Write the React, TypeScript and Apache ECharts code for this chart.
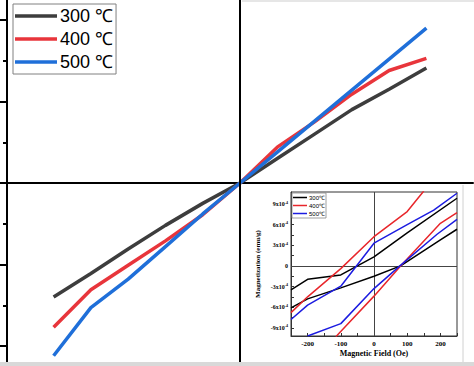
import React, { useEffect, useRef } from "react";
import * as echarts from "echarts";

// ---- main plot (field in arbitrary units, magnetization in arbitrary units) ----
const mainField = [-10, -8, -6, -4, -2, 0, 2, 4, 6, 8, 10];
const main300 = [-1.4, -1.11, -0.81, -0.52, -0.25, 0, 0.3, 0.6, 0.9, 1.15, 1.41];
const main400 = [-1.77, -1.31, -1.01, -0.71, -0.39, 0, 0.44, 0.75, 1.09, 1.38, 1.53];
const main500 = [-2.12, -1.53, -1.18, -0.78, -0.38, 0, 0.38, 0.76, 1.14, 1.52, 1.9];
const mainNames = ["300 ℃", "400 ℃", "500 ℃"];
const mainMajorTicks = [-2, -1, 0, 1, 2];
const mainMinorTicks = [-1.5, -0.5, 0.5, 1.5];

// ---- inset (field in Oe, magnetization in 1e-4 emu/g) ----
const up300Field = [-250, -200, -100, 0, 100, 250];
const up300Val = [-3.5, -1.95, -1.32, 1.3, 4.8, 9.84];
const down300Field = [-250, -200, -100, 0, 80, 200, 250];
const down300Val = [-6.1, -4.8, -3.2, -1.5, 0, 3.8, 5.33];
const up400Field = [-250, -200, -100, 0, 100, 150];
const up400Val = [-6.8, -4.5, -0.4, 4.25, 7.9, 10.9];
const down400Field = [-115, 0, 80, 200, 250];
const down400Val = [-10.3, -4.4, 0, 6.2, 7.74];
const up500Field = [-250, -200, -100, 0, 100, 180, 250];
const up500Val = [-7.8, -5.7, -2.95, 3.3, 6.0, 8.1, 10.57];
const down500Field = [-200, -100, 0, 78, 190, 250];
const down500Val = [-10.2, -8.4, -3.3, 0, 4.6, 6.78];
const insetNames = ["300℃", "400℃", "500℃"];
const insetXLabels = [-200, -100, 0, 100, 200];
const insetXTicks = [-250, -200, -150, -100, -50, 0, 50, 100, 150, 200, 250];
const insetYLabels = [-9, -6, -3, 0, 3, 6, 9];
const insetYTicks = [-9, -7.5, -6, -4.5, -3, -1.5, 0, 1.5, 3, 4.5, 6, 7.5, 9];

const mainColors = ["#3d3d3d", "#e8353b", "#1f6fd9"];
const insetColors = ["#000000", "#e8262b", "#1c1ce0"];

const pairs = (xs: number[], ys: number[]) => xs.map((x, i) => [x, ys[i]]);

export default function App() {
  const ref = useRef<HTMLDivElement>(null);
  useEffect(() => {
    if (!ref.current) return;
    const chart = echarts.init(ref.current, undefined, { renderer: "svg" });
    const serif = "'Liberation Serif', 'Times New Roman', serif";
    const mainSeries = [main300, main400, main500].map((vals, i) => ({
      name: mainNames[i],
      type: "line",
      xAxisIndex: 0,
      yAxisIndex: 0,
      data: pairs(mainField, vals),
      symbol: "none",
      lineStyle: { color: mainColors[i], width: 3.5 },
      itemStyle: { color: mainColors[i] },
      z: 3,
      ...(i === 0
        ? {
            markLine: {
              silent: true,
              symbol: ["none", "none"],
              label: { show: false },
              lineStyle: { color: "#000", width: 2, type: "solid" },
              data: [{ xAxis: 0 }],
            },
          }
        : {}),
    }));
    const insetBranches = [
      [up300Field, up300Val, 0],
      [down300Field, down300Val, 0],
      [up400Field, up400Val, 1],
      [down400Field, down400Val, 1],
      [up500Field, up500Val, 2],
      [down500Field, down500Val, 2],
    ] as [number[], number[], number][];
    const insetSeries = insetBranches.map(([xs, ys, k], j) => ({
      name: insetNames[k],
      type: "line",
      xAxisIndex: 1,
      yAxisIndex: 1,
      data: pairs(xs, ys),
      symbol: "none",
      clip: true,
      lineStyle: { color: insetColors[k], width: 1.5 },
      itemStyle: { color: insetColors[k] },
      z: 5,
      ...(j === 0
        ? {
            markLine: {
              silent: true,
              symbol: ["none", "none"],
              label: { show: false },
              lineStyle: { color: "#444", width: 1, type: "solid" },
              data: [{ xAxis: 0 }, { yAxis: 0 }],
            },
          }
        : {}),
    }));

    const mainYRange = 183 / 81.5;

    chart.setOption({
      animation: false,
      backgroundColor: "#ffffff",
      grid: [
        { left: 7, right: 1, top: 0, bottom: 0 },
        {
          left: 291,
          top: 192,
          width: 166,
          height: 144,
          show: true,
          backgroundColor: "#ffffff",
          borderColor: "#333",
          borderWidth: 1,
        },
      ],
      legend: [
        {
          data: mainNames,
          orient: "vertical",
          left: 13,
          top: 4,
          padding: [3, 3, 3, 2],
          icon: "rect",
          itemWidth: 42,
          itemHeight: 3.5,
          itemGap: 5,
          borderColor: "#808080",
          borderWidth: 1,
          backgroundColor: "#fff",
          textStyle: {
            fontFamily: "'Liberation Sans', Arial, sans-serif",
            fontSize: 18,
            lineHeight: 18,
            color: "#000",
            padding: [0, 0, 0, -2],
          },
        },
        {
          data: insetNames,
          orient: "vertical",
          left: 292,
          top: 193,
          padding: [1, 1, 1, 1],
          icon: "rect",
          itemWidth: 14,
          itemHeight: 1.5,
          itemGap: 1,
          borderColor: "#888",
          borderWidth: 0.8,
          backgroundColor: "#fff",
          textStyle: {
            fontFamily: "'Liberation Sans', Arial, sans-serif",
            fontSize: 6,
            lineHeight: 7,
            color: "#000",
            padding: [0, 0, 0, -3],
          },
        },
      ],
      xAxis: [
        {
          gridIndex: 0,
          type: "value",
          min: -12.5,
          max: 12.5,
          axisLine: { show: true, onZero: true, lineStyle: { color: "#000", width: 2 } },
          axisTick: { show: false },
          axisLabel: { show: false },
          splitLine: { show: false },
        },
        {
          gridIndex: 1,
          type: "value",
          min: -250,
          max: 250,
          axisLine: { show: true, onZero: false, lineStyle: { color: "#333", width: 1 } },
          axisTick: { show: true, inside: true, length: 3, customValues: insetXTicks, lineStyle: { color: "#333" } },
          axisLabel: {
            show: true,
            customValues: insetXLabels,
            fontFamily: serif,
            fontWeight: "bold",
            fontSize: 7,
            color: "#000",
            margin: 4,
          },
          splitLine: { show: false },
          name: "Magnetic Field (Oe)",
          nameLocation: "middle",
          nameGap: 13,
          nameTextStyle: { fontFamily: serif, fontWeight: "bold", fontSize: 8, color: "#000" },
        },
      ],
      yAxis: [
        {
          gridIndex: 0,
          type: "value",
          min: -mainYRange,
          max: mainYRange,
          axisLine: { show: true, onZero: false, lineStyle: { color: "#000", width: 2 } },
          axisTick: { show: true, inside: false, length: 7, customValues: mainMajorTicks, lineStyle: { color: "#000", width: 2 } },
          axisLabel: { show: false },
          splitLine: { show: false },
        },
        {
          gridIndex: 1,
          type: "value",
          min: -10.2,
          max: 10.75,
          axisLine: { show: true, onZero: false, lineStyle: { color: "#333", width: 1 } },
          axisTick: { show: true, inside: true, length: 3, customValues: insetYTicks, lineStyle: { color: "#333" } },
          axisLabel: {
            show: true,
            customValues: insetYLabels,
            margin: 3,
            formatter: (v: number) => (v === 0 ? "{a|0}" : `{a|${v}x10}{b|-4}`),
            rich: {
              a: { fontFamily: serif, fontWeight: "bold", fontSize: 6, color: "#000" },
              b: { fontFamily: serif, fontWeight: "bold", fontSize: 4, color: "#000", padding: [0, 0, 4, 0] },
            },
          },
          splitLine: { show: false },
          name: "Magnetization (emu/g)",
          nameLocation: "middle",
          nameRotate: 90,
          nameGap: 30,
          nameTextStyle: { fontFamily: serif, fontWeight: "bold", fontSize: 7, color: "#000" },
        },
        {
          gridIndex: 0,
          type: "value",
          position: "left",
          min: -mainYRange,
          max: mainYRange,
          axisLine: { show: false, onZero: false },
          axisTick: { show: true, inside: false, length: 4, customValues: mainMinorTicks, lineStyle: { color: "#000", width: 2 } },
          axisLabel: { show: false },
          splitLine: { show: false },
        },
      ],
      graphic: [
        { type: "rect", shape: { x: 0, y: 362, width: 474, height: 4 }, style: { fill: "#d9d9d9" }, z: 100 },
        { type: "rect", shape: { x: 242, y: 0, width: 232, height: 2 }, style: { fill: "#e6e6e6" }, z: 100 },
        { type: "line", shape: { x1: 463, y1: 185, x2: 463, y2: 362 }, style: { stroke: "#d0d0d0", lineWidth: 1 }, z: 100 },
      ],
      series: [...mainSeries, ...insetSeries],
    });
    return () => chart.dispose();
  }, []);
  return (
    <div
      ref={ref}
      style={{ position: "fixed", left: 0, top: 0, width: 474, height: 366 }}
    />
  );
}
